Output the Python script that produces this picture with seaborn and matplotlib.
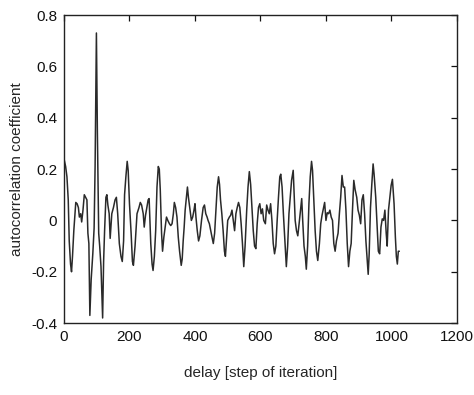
import matplotlib
matplotlib.use("Agg")
import matplotlib.pyplot as plt
import seaborn as sns
import pandas as pd

sns.set_style("white")
plt.rcParams["font.family"] = ["Liberation Sans", "DejaVu Sans"]
plt.rcParams["axes.unicode_minus"] = False

# values
lag = [0, 5, 9, 13, 16, 20, 23, 26, 30, 36, 40, 44, 47, 51, 54, 58, 62, 66, 70, 73,
       76, 79, 83, 88, 92, 95, 99, 102, 106, 109, 113, 118, 121, 124, 128, 131, 134, 138,
       141, 146, 151, 156, 160, 164, 169, 174, 178, 182, 185, 189, 193, 196, 200, 205,
       209, 212, 217, 223, 229, 233, 237, 242, 245, 249, 253, 257, 260, 265, 269, 272,
       276, 280, 284, 288, 291, 294, 298, 301, 305, 309, 313, 317, 322, 326, 330, 334,
       337, 341, 345, 349, 353, 358, 361, 364, 367, 370, 374, 377, 380, 385, 389, 393,
       397, 400, 403, 407, 411, 415, 420, 425, 429, 433, 437, 440, 444, 448, 452, 456,
       460, 464, 468, 472, 475, 478, 482, 486, 490, 493, 496, 500, 505, 509, 513, 517,
       521, 525, 529, 533, 537, 541, 545, 549, 553, 558, 562, 566, 570, 574, 578, 582,
       586, 590, 594, 598, 602, 606, 610, 615, 619, 623, 627, 631, 635, 639, 643, 647,
       651, 655, 659, 662, 666, 670, 675, 679, 683, 687, 691, 695, 700, 703, 706, 710,
       714, 718, 723, 726, 729, 733, 737, 740, 744, 748, 752, 756, 759, 763, 767, 771,
       775, 780, 784, 788, 792, 796, 800, 804, 808, 812, 816, 820, 824, 828, 832, 837,
       841, 845, 849, 853, 857, 861, 865, 869, 873, 877, 881, 885, 889, 894, 898, 902,
       906, 910, 914, 918, 922, 926, 929, 932, 936, 940, 944, 947, 952, 956, 960, 964,
       968, 972, 976, 980, 984, 987, 991, 995, 999, 1003, 1008, 1012, 1015, 1018, 1021,
       1024]
acf = [0.24, 0.21, 0.17, 0.08, -0.08, -0.17, -0.20, -0.14, -0.04, 0.07, 0.065, 0.05,
       0.013, 0.026, -0.006, 0.04, 0.10, 0.09, 0.08, -0.05, -0.09, -0.37, -0.23, -0.13,
       -0.03, 0.21, 0.73, 0.34, -0.05, -0.10, -0.18, -0.38, -0.16, -0.04, 0.09, 0.10,
       0.06, 0.026, -0.07, 0.026, 0.05, 0.08, 0.09, 0.026, -0.09, -0.14, -0.16, -0.08,
       0.10, 0.17, 0.23, 0.195, 0.065, -0.05, -0.16, -0.175, -0.10, 0.026, 0.05, 0.07,
       0.06, 0.026, -0.026, 0.02, 0.05, 0.08, 0.085, -0.09, -0.17, -0.195, -0.14, -0.04,
       0.13, 0.21, 0.20, 0.12, -0.05, -0.12, -0.065, -0.026, 0.013, 0.0, -0.013, -0.02,
       -0.013, 0.026, 0.07, 0.05, 0.013, -0.065, -0.12, -0.175, -0.15, -0.08, -0.026,
       0.04, 0.09, 0.13, 0.09, 0.04, 0.0, 0.013, 0.04, 0.065, 0.013, -0.04, -0.08, -0.06,
       0.0, 0.05, 0.06, 0.026, 0.013, 0.0, -0.013, -0.04, -0.065, -0.09, -0.05, 0.04,
       0.13, 0.17, 0.14, 0.08, 0.026, -0.04, -0.12, -0.14, -0.08, 0.0, 0.013, 0.02, 0.04,
       0.0, -0.04, 0.026, 0.05, 0.07, 0.05, -0.013, -0.09, -0.18, -0.10, 0.04, 0.13,
       0.19, 0.14, 0.05, -0.04, -0.10, -0.11, -0.013, 0.05, 0.065, 0.026, 0.045, 0.0,
       -0.013, 0.06, 0.04, 0.026, 0.065, 0.0, -0.09, -0.13, -0.10, 0.0, 0.09, 0.17, 0.18,
       0.13, 0.026, -0.09, -0.18, -0.10, 0.026, 0.09, 0.156, 0.195, 0.10, 0.0, -0.04,
       -0.06, -0.013, 0.05, 0.085, 0.0, -0.10, -0.14, -0.19, -0.10, 0.065, 0.17, 0.23,
       0.195, 0.08, -0.04, -0.12, -0.156, -0.09, -0.013, 0.02, 0.045, 0.07, 0.0, 0.03,
       0.026, 0.04, 0.013, 0.0, -0.09, -0.12, -0.08, -0.05, 0.026, 0.09, 0.175, 0.13,
       0.13, 0.04, -0.09, -0.18, -0.12, -0.09, 0.04, 0.156, 0.12, 0.09, 0.04, 0.02,
       -0.013, 0.08, 0.10, 0.026, -0.08, -0.156, -0.21, -0.13, 0.05, 0.14, 0.22, 0.18,
       0.09, -0.013, -0.12, -0.13, -0.026, 0.006, 0.0, 0.04, -0.05, -0.10, 0.04, 0.09,
       0.136, 0.16, 0.065, -0.065, -0.14, -0.17, -0.12, -0.12]

x_ticks = [0, 200, 400, 600, 800, 1000, 1200]
y_ticks = [-0.4, -0.2, 0, 0.2, 0.4, 0.6, 0.8]
y_tick_labels = ["-0.4", "-0.2", "0", "0.2", "0.4", "0.6", "0.8"]

df = pd.DataFrame({"lag": lag, "acf": acf})

fig = plt.figure(figsize=(4.74, 3.95), dpi=100)
ax = fig.add_axes([0.135, 0.182, 0.829, 0.780])
sns.lineplot(data=df, x="lag", y="acf", ax=ax, color="#2a2a2a", linewidth=1.1)

ax.set_xlim(0, 1200)
ax.set_ylim(-0.4, 0.8)
ax.set_xticks(x_ticks)
ax.set_xticklabels([str(t) for t in x_ticks])
ax.set_yticks(y_ticks)
ax.set_yticklabels(y_tick_labels)
ax.tick_params(direction="in", top=True, right=True, length=4, width=0.9,
               labelsize=11, colors="#111111", pad=5)
for s in ax.spines.values():
    s.set_linewidth(1.0)
    s.set_color("#222222")

ax.set_xlabel("delay [step of iteration]", fontsize=11, labelpad=16)
ax.set_ylabel("autocorrelation coefficient", fontsize=11, labelpad=5)

fig.savefig("out.png", dpi=100)
